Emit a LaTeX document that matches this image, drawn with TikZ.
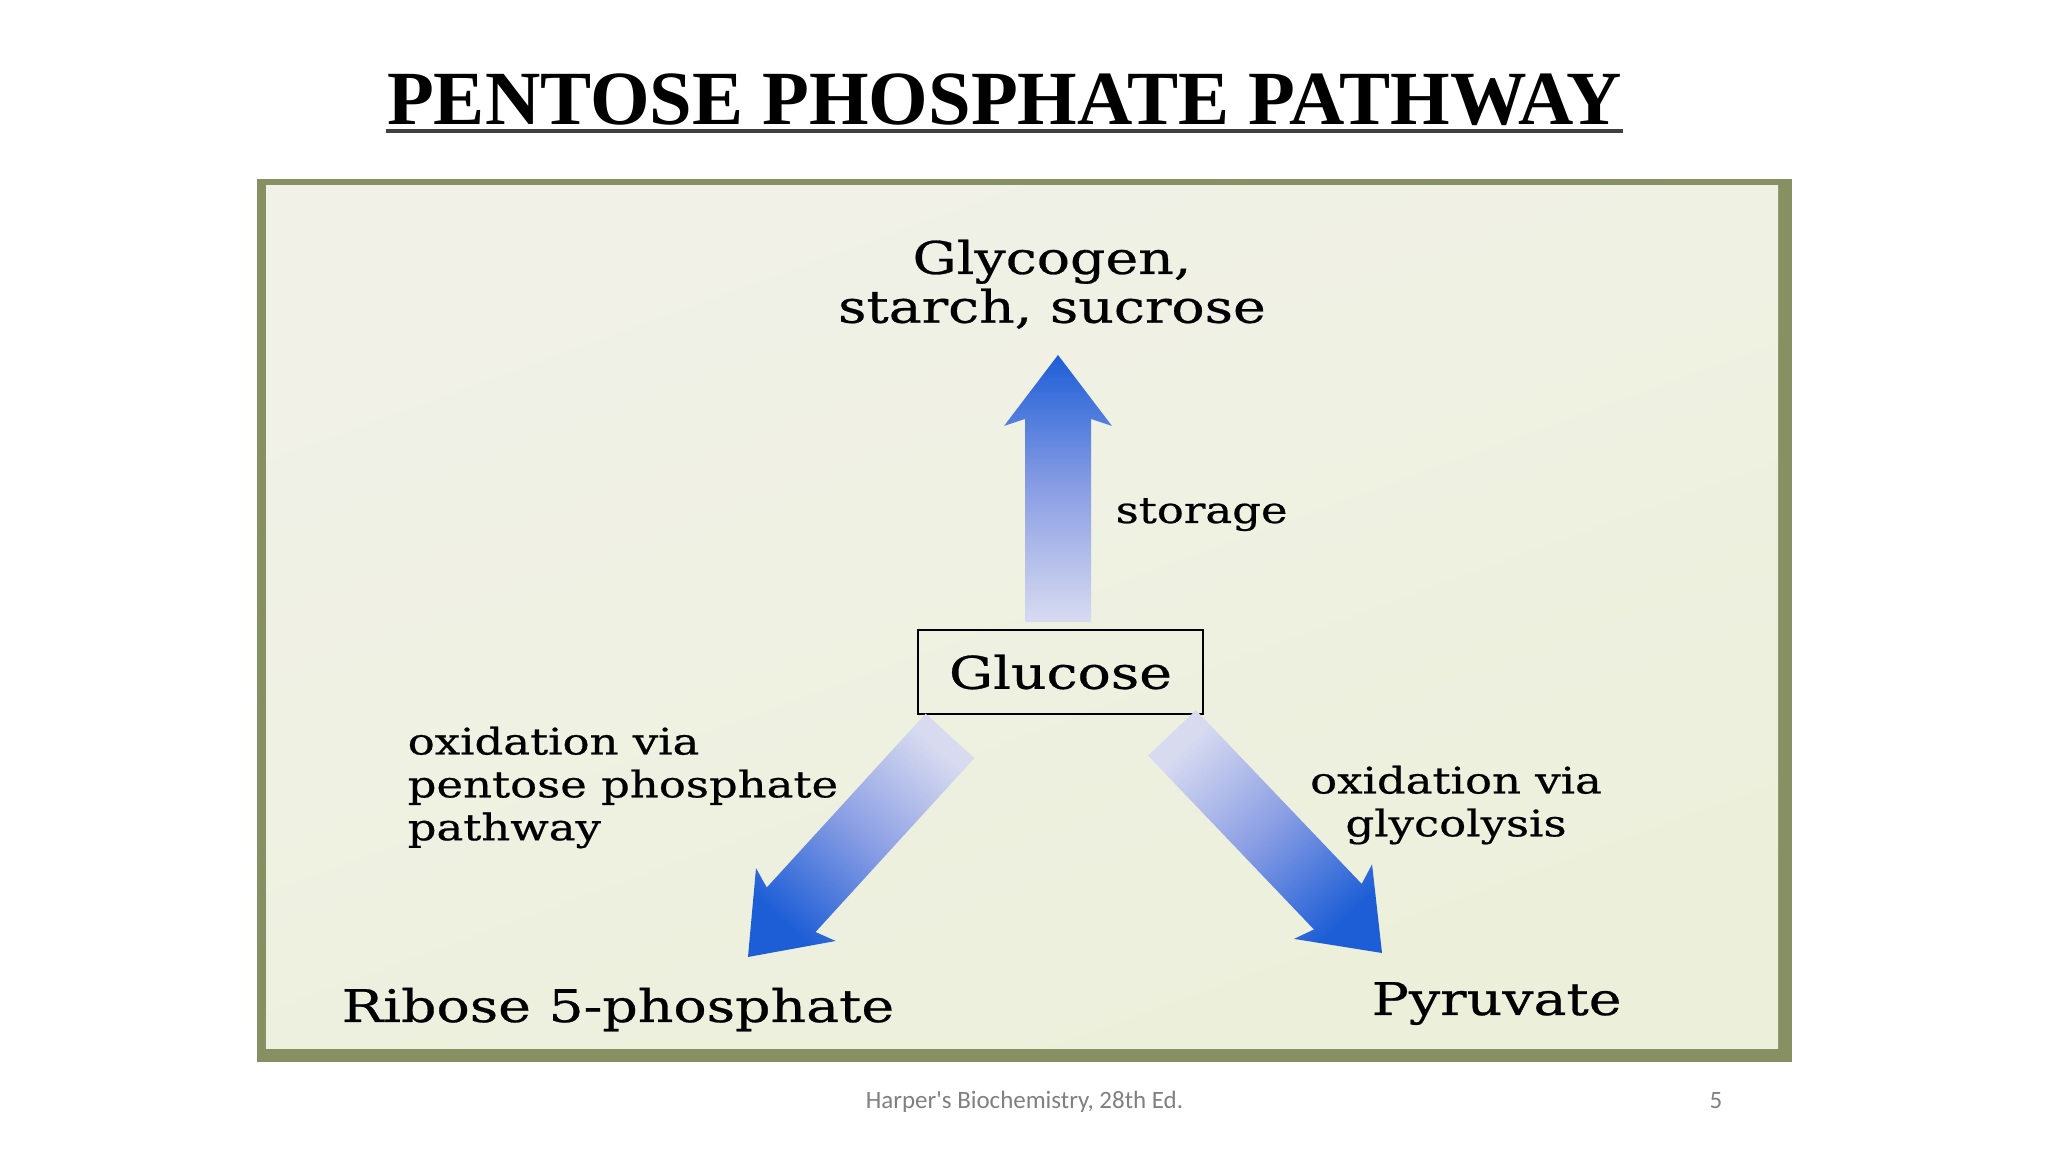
\documentclass[tikz,border=0pt]{standalone}
\usepackage{fontspec}
\usepackage{tikz}
\usepackage{xcolor}
\usetikzlibrary{calc,positioning}

\newfontfamily\titlefont{Liberation Serif}
\newfontfamily\bookfont[FakeStretch=1.23,FakeBold=0.6]{DejaVu Serif}
\newfontfamily\footfont{Carlito}

\definecolor{framegreen}{HTML}{879063}
\definecolor{paperlight}{HTML}{F1F1E8}
\definecolor{paper}{HTML}{ECF0DA}
\definecolor{arrowblue}{HTML}{1D5ED6}
\definecolor{arrowmid}{HTML}{8A9EE4}
\definecolor{arrowpale}{HTML}{D8DBF0}

\tikzset{
    big/.style={font=\bookfont\fontsize{12.8}{13.9}\selectfont, inner sep=0pt},
    small/.style={font=\bookfont\fontsize{10.4}{12.2}\selectfont, inner sep=0pt},
    foot/.style={font=\footfont\fontsize{7.1}{8}\selectfont, text=black!50, anchor=base},
    bluearrow/.style={top color=arrowblue, bottom color=arrowpale, middle color=arrowmid}
}

%% #1 name, #2 tail, #3 tip, #4 shading angle
\newcommand{\fatarrow}[4]{
    \coordinate (#1-b) at ($(#3)!0.64cm!(#2)$);
    \coordinate (#1-k) at ($(#3)!0.71cm!(#2)$);
    \path[bluearrow, shading angle=#4]
        ($(#2)!0.33cm!90:(#3)$) -- ($(#1-b)!0.33cm!90:(#3)$) -- ($(#1-k)!0.54cm!90:(#3)$)
        -- (#3) -- ($(#1-k)!0.54cm!-90:(#3)$) -- ($(#1-b)!0.33cm!-90:(#3)$)
        -- ($(#2)!0.33cm!-90:(#3)$) -- cycle;
}

\begin{document}
\begin{tikzpicture}

        \useasboundingbox (0,0) rectangle (20.48,11.52);
        \fill[white] (0,0) rectangle (20.48,11.52);

        %%title
        \node[font=\titlefont\bfseries\fontsize{21.8}{24}\selectfont, anchor=base, inner sep=0pt] (title) at (10.045,10.27){PENTOSE PHOSPHATE PATHWAY};
            \draw[line width=1.1pt, black!75] ([yshift=-0.06cm]title.base west) to ([yshift=-0.06cm]title.base east);

        %%frame
        \fill[framegreen] (2.57,0.90) rectangle (17.92,9.73);
        \shade[top color=paperlight, bottom color=paper, shading angle=20] (2.66,1.03) rectangle (17.78,9.66);

        %%glucose
        \node[big, draw, line width=0.5pt, minimum width=2.85cm, minimum height=0.84cm] (glucose) at (10.605,4.80){Glucose};

        %%products
        \node[big, align=center, anchor=north] (glycogen) at (10.52,9.13){Glycogen,\\starch, sucrose};
        \node[big, anchor=base west] (ribose) at (3.41,1.30){Ribose 5-phosphate};
        \node[big, anchor=base west] (pyruvate) at (13.71,1.37){Pyruvate};

        %%labels
        \node[small, anchor=base west] (storage) at (11.15,6.29){storage};
        \node[small, align=left, anchor=north west] (pentose) at (4.07,4.26){oxidation via\\pentose phosphate\\pathway};
        \node[small, align=center, anchor=north] (glycolysis) at (14.56,3.87){oxidation via\\glycolysis};

        %%arrows
        \coordinate (upTail) at ($(glucose.north)+(-0.025,0.07)$);
        \coordinate (upTip) at (10.58,7.97);
        \coordinate (leftTail) at ($(glucose.south)+(-1.105,-0.21)$);
        \coordinate (leftTip) at (7.48,1.95);
        \coordinate (rightTail) at ($(glucose.south)+(1.115,-0.18)$);
        \coordinate (rightTip) at (13.82,1.99);

        \fatarrow{up}{upTail}{upTip}{0}
        \fatarrow{left}{leftTail}{leftTip}{137.7}
        \fatarrow{right}{rightTail}{rightTip}{-136.5}

        %%footer
        \node[foot] (source) at (10.245,0.43){Harper's Biochemistry, 28th Ed.};
        \node[foot] (page) at (17.16,0.43){5};

\end{tikzpicture}
\end{document}
